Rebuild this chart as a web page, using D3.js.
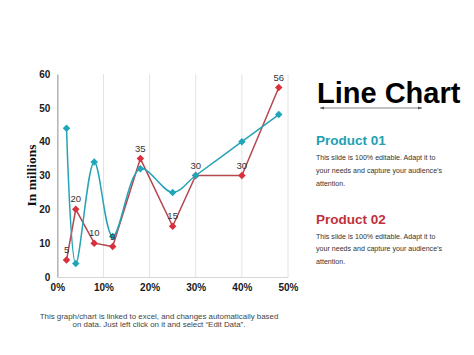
<!DOCTYPE html>
<html><head><meta charset="utf-8">
<script src="https://cdn.jsdelivr.net/npm/d3@7/dist/d3.min.js"></script>
<style>body{margin:0;background:#fff;}svg{display:block;}</style>
</head><body>
<svg id="c" width="474" height="355"></svg>
<script>
const xValues = [0.02, 0.04, 0.08, 0.12, 0.18, 0.25, 0.30, 0.40, 0.48];
const product01 = [44, 4, 34, 12, 32, 25, 30, 40, 48];
const product02 = [5, 20, 10, 9, 35, 15, 30, 30, 56];
const xTicks = [0, 0.1, 0.2, 0.3, 0.4, 0.5];
const yTicks = [0, 10, 20, 30, 40, 50, 60];
const seriesNames = ["Product 01", "Product 02"];
const bodyText = ["This slide is 100% editable.  Adapt it to", "your needs and capture your audience\u2019s", "attention."];
const caption = ["This graph/chart is linked to excel, and changes automatically  based", "on data. Just left click on it and select \u201CEdit Data\u201D."];

const svg = d3.select("#c");
const x = d3.scaleLinear().domain([0, 0.5]).range([57.3, 288]);
const y = d3.scaleLinear().domain([0, 60]).range([277, 74]);
const teal = "#27a3b5", tealM = "#1fa6bb";
const redL = "#b44750", redM = "#d8303c";

// vertical gridlines
svg.append("g").selectAll("line").data(xTicks.slice(1)).join("line")
  .attr("x1", d => x(d)).attr("x2", d => x(d)).attr("y1", y(60)).attr("y2", y(0))
  .attr("stroke", "#e3e3e3").attr("stroke-width", 1);

// x axis
const xAxis = svg.append("g").attr("transform", `translate(0,${y(0)})`)
  .call(d3.axisBottom(x).tickValues(xTicks).tickFormat(d3.format(".0%")).tickSize(0).tickPadding(7));
xAxis.select(".domain").attr("stroke", "#d6d6d6").attr("stroke-width", 1.2);
xAxis.selectAll("text").attr("font-family", "Liberation Sans, Arial, sans-serif").attr("font-weight", "bold").attr("font-size", 10).attr("fill", "#1a1a1a");

// y axis
const yAxis = svg.append("g").attr("transform", `translate(${x(0)},0)`)
  .call(d3.axisLeft(y).tickValues(yTicks).tickSize(0).tickPadding(7));
yAxis.select(".domain").attr("stroke", "#b8b8b8").attr("stroke-width", 1.6);
yAxis.selectAll("text").attr("font-family", "Liberation Sans, Arial, sans-serif").attr("font-weight", "bold").attr("font-size", 10).attr("fill", "#1a1a1a");

svg.append("text").attr("transform", `translate(36,${(y(0)+y(60))/2}) rotate(-90)`)
  .attr("text-anchor", "middle").attr("font-family", "Liberation Serif, Times New Roman, serif")
  .attr("font-weight", "bold").attr("font-size", 13.5).attr("fill", "#111").text("In millions");

const d01 = xValues.map((v, i) => [v, product01[i]]);
const d02 = xValues.map((v, i) => [v, product02[i]]);

svg.append("path").datum(d02).attr("fill", "none").attr("stroke", redL).attr("stroke-width", 1.5)
  .attr("d", d3.line().x(d => x(d[0])).y(d => y(d[1])));
svg.append("path").datum(d01).attr("fill", "none").attr("stroke", teal).attr("stroke-width", 1.5)
  .attr("d", d3.line().curve(d3.curveCatmullRom.alpha(0.5)).x(d => x(d[0])).y(d => y(d[1])));

const diamond = d3.symbol().type(d3.symbolDiamond2).size(36);
svg.append("g").selectAll("path").data(d02).join("path")
  .attr("transform", d => `translate(${x(d[0])},${y(d[1])})`).attr("d", diamond).attr("fill", redM);
svg.append("g").selectAll("path").data(d01).join("path")
  .attr("transform", d => `translate(${x(d[0])},${y(d[1])})`).attr("d", diamond).attr("fill", tealM);

svg.append("g").selectAll("text").data(d02).join("text")
  .attr("x", d => x(d[0])).attr("y", d => y(d[1]) - 7)
  .attr("text-anchor", "middle").attr("font-family", "Liberation Sans, Arial, sans-serif")
  .attr("font-size", 9.5).attr("fill", "#333").text(d => d[1]);

// right panel
svg.append("text").attr("x", 317).attr("y", 102.5).attr("font-family", "Liberation Sans, Arial, sans-serif")
  .attr("font-weight", "bold").attr("font-size", 29).attr("fill", "#000").text("Line Chart");
svg.append("line").attr("x1", 320).attr("x2", 422).attr("y1", 108).attr("y2", 108).attr("stroke", "#666").attr("stroke-width", 0.8);
svg.append("path").attr("d", "M320,108 l4,-1.6 v3.2 z M422,108 l-4,-1.6 v3.2 z").attr("fill", "#555");

const panels = [{name: seriesNames[0], color: "#22a0b3", y: 145}, {name: seriesNames[1], color: "#c0313c", y: 223.5}];
panels.forEach(p => {
  svg.append("text").attr("x", 316).attr("y", p.y).attr("font-family", "Liberation Sans, Arial, sans-serif")
    .attr("font-weight", "bold").attr("font-size", 13.5).attr("fill", p.color).text(p.name);
  svg.append("g").selectAll("text").data(bodyText).join("text")
    .attr("x", 316).attr("y", (d, i) => p.y + 15 + i * 12.8)
    .attr("font-family", "Liberation Sans, Arial, sans-serif").attr("font-size", 7.1).attr("fill", "#333").text(d => d);
});

svg.append("g").selectAll("text").data(caption).join("text")
  .attr("x", 159).attr("y", (d, i) => 318.5 + i * 8)
  .attr("text-anchor", "middle").attr("font-family", "Liberation Sans, Arial, sans-serif")
  .attr("font-size", 7.9).attr("fill", "#444").text(d => d);
</script>
</body></html>
